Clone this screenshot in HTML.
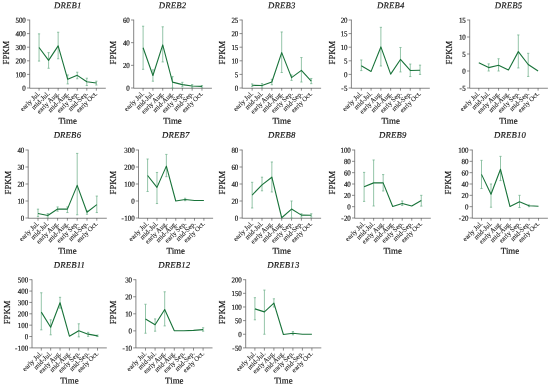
<!DOCTYPE html>
<html><head><meta charset="utf-8"><title>DREB FPKM</title>
<style>html,body{margin:0;padding:0;background:#fff}svg{display:block}</style></head>
<body>
<svg width="550" height="387" viewBox="0 0 550 387" font-family="'Liberation Serif', serif" fill="#111" stroke="#111" stroke-width="0.18">
<g>
<text transform="translate(67.70 8.30) rotate(0.03)" font-size="8.7" font-style="italic" letter-spacing="0.2" text-anchor="middle">DREB1</text>
<path d="M29.70 19.65V88.25H105.80" fill="none" stroke="#5e5e5e" stroke-width="0.75"/>
<text transform="translate(25.75 90.75) rotate(0.03) scale(0.92 1)" font-size="7.6" letter-spacing="-0.1" text-anchor="end">0</text>
<text transform="translate(25.75 77.15) rotate(0.03) scale(0.92 1)" font-size="7.6" letter-spacing="-0.1" text-anchor="end">100</text>
<text transform="translate(25.75 63.55) rotate(0.03) scale(0.92 1)" font-size="7.6" letter-spacing="-0.1" text-anchor="end">200</text>
<text transform="translate(25.75 49.95) rotate(0.03) scale(0.92 1)" font-size="7.6" letter-spacing="-0.1" text-anchor="end">300</text>
<text transform="translate(25.75 36.35) rotate(0.03) scale(0.92 1)" font-size="7.6" letter-spacing="-0.1" text-anchor="end">400</text>
<text transform="translate(25.75 22.75) rotate(0.03) scale(0.92 1)" font-size="7.6" letter-spacing="-0.1" text-anchor="end">500</text>
<path d="M29.70 88.00h-2.7M29.70 74.40h-2.7M29.70 60.80h-2.7M29.70 47.20h-2.7M29.70 33.60h-2.7M29.70 20.00h-2.7M39.05 88.00v2.7M48.60 88.00v2.7M58.15 88.00v2.7M67.70 88.00v2.7M77.25 88.00v2.7M86.80 88.00v2.7M96.35 88.00v2.7" fill="none" stroke="#5e5e5e" stroke-width="0.7"/>
<text transform="translate(40.5 94.0) rotate(-45)" font-size="6.85" stroke-width="0.06" text-anchor="end">early Jul.</text>
<text transform="translate(50.1 94.0) rotate(-45)" font-size="6.85" stroke-width="0.06" text-anchor="end">mid-Jul.</text>
<text transform="translate(59.6 94.0) rotate(-45)" font-size="6.85" stroke-width="0.06" text-anchor="end">early Aug.</text>
<text transform="translate(69.2 94.0) rotate(-45)" font-size="6.85" stroke-width="0.06" text-anchor="end">mid-Aug.</text>
<text transform="translate(78.8 94.0) rotate(-45)" font-size="6.85" stroke-width="0.06" text-anchor="end">early Sep.</text>
<text transform="translate(88.3 94.0) rotate(-45)" font-size="6.85" stroke-width="0.06" text-anchor="end">mid-Sep.</text>
<text transform="translate(97.8 94.0) rotate(-45)" font-size="6.85" stroke-width="0.06" text-anchor="end">early Oct.</text>
<path d="M39.05 33.87V61.07M37.95 33.87h2.2M37.95 61.07h2.2M48.60 52.64V68.28M47.50 52.64h2.2M47.50 68.28h2.2M58.15 32.24V58.76M57.05 32.24h2.2M57.05 58.76h2.2M67.70 74.94V83.92M66.60 74.94h2.2M66.60 83.92h2.2M77.25 72.22V78.75M76.15 72.22h2.2M76.15 78.75h2.2M86.80 78.21V85.55M85.70 78.21h2.2M85.70 85.55h2.2M96.35 81.20V85.01M95.25 81.20h2.2M95.25 85.01h2.2" fill="none" stroke="#70b28c" stroke-width="0.75"/>
<polyline points="39.05,47.47 48.60,60.39 58.15,45.84 67.70,79.30 77.25,75.35 86.80,81.74 96.35,82.97" fill="none" stroke="#19733a" stroke-width="1.1" stroke-linejoin="round"/>
<text transform="translate(67.70 123.70) rotate(0.03)" font-size="8.9" text-anchor="middle">Time</text>
<text transform="translate(9.3 52.6) rotate(-90)" font-size="8.7" text-anchor="middle">FPKM</text>
</g>
<g>
<text transform="translate(172.53 8.30) rotate(0.03)" font-size="8.7" font-style="italic" letter-spacing="0.2" text-anchor="middle">DREB2</text>
<path d="M133.70 19.65V88.25H211.90" fill="none" stroke="#5e5e5e" stroke-width="0.75"/>
<text transform="translate(129.75 90.75) rotate(0.03) scale(0.92 1)" font-size="7.6" letter-spacing="-0.1" text-anchor="end">0</text>
<text transform="translate(129.75 68.08) rotate(0.03) scale(0.92 1)" font-size="7.6" letter-spacing="-0.1" text-anchor="end">20</text>
<text transform="translate(129.75 45.42) rotate(0.03) scale(0.92 1)" font-size="7.6" letter-spacing="-0.1" text-anchor="end">40</text>
<text transform="translate(129.75 22.75) rotate(0.03) scale(0.92 1)" font-size="7.6" letter-spacing="-0.1" text-anchor="end">60</text>
<path d="M133.70 88.00h-2.7M133.70 65.33h-2.7M133.70 42.67h-2.7M133.70 20.00h-2.7M143.10 88.00v2.7M152.91 88.00v2.7M162.72 88.00v2.7M172.53 88.00v2.7M182.34 88.00v2.7M192.15 88.00v2.7M201.96 88.00v2.7" fill="none" stroke="#5e5e5e" stroke-width="0.7"/>
<text transform="translate(144.6 94.0) rotate(-45)" font-size="6.85" stroke-width="0.06" text-anchor="end">early Jul.</text>
<text transform="translate(154.4 94.0) rotate(-45)" font-size="6.85" stroke-width="0.06" text-anchor="end">mid-Jul.</text>
<text transform="translate(164.2 94.0) rotate(-45)" font-size="6.85" stroke-width="0.06" text-anchor="end">early Aug.</text>
<text transform="translate(174.0 94.0) rotate(-45)" font-size="6.85" stroke-width="0.06" text-anchor="end">mid-Aug.</text>
<text transform="translate(183.8 94.0) rotate(-45)" font-size="6.85" stroke-width="0.06" text-anchor="end">early Sep.</text>
<text transform="translate(193.7 94.0) rotate(-45)" font-size="6.85" stroke-width="0.06" text-anchor="end">mid-Sep.</text>
<text transform="translate(203.5 94.0) rotate(-45)" font-size="6.85" stroke-width="0.06" text-anchor="end">early Oct.</text>
<path d="M143.10 26.23V69.30M142.00 26.23h2.2M142.00 69.30h2.2M152.91 69.87V81.20M151.81 69.87h2.2M151.81 81.20h2.2M162.72 26.80V61.93M161.62 26.80h2.2M161.62 61.93h2.2M172.53 76.67V88.00M171.43 76.67h2.2M171.43 88.00h2.2M182.34 82.33V86.87M181.24 82.33h2.2M181.24 86.87h2.2M192.15 84.60V87.55M191.05 84.60h2.2M191.05 87.55h2.2M201.96 85.62V87.32M200.86 85.62h2.2M200.86 87.32h2.2" fill="none" stroke="#70b28c" stroke-width="0.75"/>
<polyline points="143.10,47.77 152.91,75.53 162.72,44.93 172.53,82.11 182.34,84.60 192.15,85.96 201.96,86.41" fill="none" stroke="#19733a" stroke-width="1.1" stroke-linejoin="round"/>
<text transform="translate(172.53 123.70) rotate(0.03)" font-size="8.9" text-anchor="middle">Time</text>
<text transform="translate(115.9 52.6) rotate(-90)" font-size="8.7" text-anchor="middle">FPKM</text>
</g>
<g>
<text transform="translate(281.70 8.30) rotate(0.03)" font-size="8.7" font-style="italic" letter-spacing="0.2" text-anchor="middle">DREB3</text>
<path d="M242.20 19.65V88.25H321.10" fill="none" stroke="#5e5e5e" stroke-width="0.75"/>
<text transform="translate(238.25 90.75) rotate(0.03) scale(0.92 1)" font-size="7.6" letter-spacing="-0.1" text-anchor="end">0</text>
<text transform="translate(238.25 77.15) rotate(0.03) scale(0.92 1)" font-size="7.6" letter-spacing="-0.1" text-anchor="end">5</text>
<text transform="translate(238.25 63.55) rotate(0.03) scale(0.92 1)" font-size="7.6" letter-spacing="-0.1" text-anchor="end">10</text>
<text transform="translate(238.25 49.95) rotate(0.03) scale(0.92 1)" font-size="7.6" letter-spacing="-0.1" text-anchor="end">15</text>
<text transform="translate(238.25 36.35) rotate(0.03) scale(0.92 1)" font-size="7.6" letter-spacing="-0.1" text-anchor="end">20</text>
<text transform="translate(238.25 22.75) rotate(0.03) scale(0.92 1)" font-size="7.6" letter-spacing="-0.1" text-anchor="end">25</text>
<path d="M242.20 88.00h-2.7M242.20 74.40h-2.7M242.20 60.80h-2.7M242.20 47.20h-2.7M242.20 33.60h-2.7M242.20 20.00h-2.7M252.15 88.00v2.7M262.00 88.00v2.7M271.85 88.00v2.7M281.70 88.00v2.7M291.55 88.00v2.7M301.40 88.00v2.7M311.25 88.00v2.7" fill="none" stroke="#5e5e5e" stroke-width="0.7"/>
<text transform="translate(253.7 94.0) rotate(-45)" font-size="6.85" stroke-width="0.06" text-anchor="end">early Jul.</text>
<text transform="translate(263.5 94.0) rotate(-45)" font-size="6.85" stroke-width="0.06" text-anchor="end">mid-Jul.</text>
<text transform="translate(273.4 94.0) rotate(-45)" font-size="6.85" stroke-width="0.06" text-anchor="end">early Aug.</text>
<text transform="translate(283.2 94.0) rotate(-45)" font-size="6.85" stroke-width="0.06" text-anchor="end">mid-Aug.</text>
<text transform="translate(293.1 94.0) rotate(-45)" font-size="6.85" stroke-width="0.06" text-anchor="end">early Sep.</text>
<text transform="translate(302.9 94.0) rotate(-45)" font-size="6.85" stroke-width="0.06" text-anchor="end">mid-Sep.</text>
<text transform="translate(312.8 94.0) rotate(-45)" font-size="6.85" stroke-width="0.06" text-anchor="end">early Oct.</text>
<path d="M252.15 83.92V86.64M251.05 83.92h2.2M251.05 86.64h2.2M262.00 83.65V87.18M260.90 83.65h2.2M260.90 87.18h2.2M271.85 79.30V84.74M270.75 79.30h2.2M270.75 84.74h2.2M281.70 31.97V72.50M280.60 31.97h2.2M280.60 72.50h2.2M291.55 74.94V80.38M290.45 74.94h2.2M290.45 80.38h2.2M301.40 57.54V82.02M300.30 57.54h2.2M300.30 82.02h2.2M311.25 78.48V83.65M310.15 78.48h2.2M310.15 83.65h2.2" fill="none" stroke="#70b28c" stroke-width="0.75"/>
<polyline points="252.15,85.28 262.00,85.55 271.85,82.02 281.70,52.64 291.55,77.66 301.40,70.32 311.25,81.20" fill="none" stroke="#19733a" stroke-width="1.1" stroke-linejoin="round"/>
<text transform="translate(281.70 123.70) rotate(0.03)" font-size="8.9" text-anchor="middle">Time</text>
<text transform="translate(225.1 52.6) rotate(-90)" font-size="8.7" text-anchor="middle">FPKM</text>
</g>
<g>
<text transform="translate(390.67 8.30) rotate(0.03)" font-size="8.7" font-style="italic" letter-spacing="0.2" text-anchor="middle">DREB4</text>
<path d="M351.40 19.65V88.25H429.80" fill="none" stroke="#5e5e5e" stroke-width="0.75"/>
<text transform="translate(347.45 90.75) rotate(0.03) scale(0.92 1)" font-size="7.6" letter-spacing="-0.1" text-anchor="end">-<tspan dx="0.55">5</tspan></text>
<text transform="translate(347.45 77.15) rotate(0.03) scale(0.92 1)" font-size="7.6" letter-spacing="-0.1" text-anchor="end">0</text>
<text transform="translate(347.45 63.55) rotate(0.03) scale(0.92 1)" font-size="7.6" letter-spacing="-0.1" text-anchor="end">5</text>
<text transform="translate(347.45 49.95) rotate(0.03) scale(0.92 1)" font-size="7.6" letter-spacing="-0.1" text-anchor="end">10</text>
<text transform="translate(347.45 36.35) rotate(0.03) scale(0.92 1)" font-size="7.6" letter-spacing="-0.1" text-anchor="end">15</text>
<text transform="translate(347.45 22.75) rotate(0.03) scale(0.92 1)" font-size="7.6" letter-spacing="-0.1" text-anchor="end">20</text>
<path d="M351.40 88.00h-2.7M351.40 74.40h-2.7M351.40 60.80h-2.7M351.40 47.20h-2.7M351.40 33.60h-2.7M351.40 20.00h-2.7M361.30 88.00v2.7M371.09 88.00v2.7M380.88 88.00v2.7M390.67 88.00v2.7M400.46 88.00v2.7M410.25 88.00v2.7M420.04 88.00v2.7" fill="none" stroke="#5e5e5e" stroke-width="0.7"/>
<text transform="translate(362.8 94.0) rotate(-45)" font-size="6.85" stroke-width="0.06" text-anchor="end">early Jul.</text>
<text transform="translate(372.6 94.0) rotate(-45)" font-size="6.85" stroke-width="0.06" text-anchor="end">mid-Jul.</text>
<text transform="translate(382.4 94.0) rotate(-45)" font-size="6.85" stroke-width="0.06" text-anchor="end">early Aug.</text>
<text transform="translate(392.2 94.0) rotate(-45)" font-size="6.85" stroke-width="0.06" text-anchor="end">mid-Aug.</text>
<text transform="translate(402.0 94.0) rotate(-45)" font-size="6.85" stroke-width="0.06" text-anchor="end">early Sep.</text>
<text transform="translate(411.8 94.0) rotate(-45)" font-size="6.85" stroke-width="0.06" text-anchor="end">mid-Sep.</text>
<text transform="translate(421.5 94.0) rotate(-45)" font-size="6.85" stroke-width="0.06" text-anchor="end">early Oct.</text>
<path d="M361.30 59.98V70.59M360.20 59.98h2.2M360.20 70.59h2.2M380.88 27.34V65.97M379.78 27.34h2.2M379.78 65.97h2.2M400.46 47.47V71.95M399.36 47.47h2.2M399.36 71.95h2.2M410.25 64.06V76.58M409.15 64.06h2.2M409.15 76.58h2.2M420.04 65.15V74.40M418.94 65.15h2.2M418.94 74.40h2.2" fill="none" stroke="#70b28c" stroke-width="0.75"/>
<polyline points="361.30,65.70 371.09,71.41 380.88,46.93 390.67,74.13 400.46,59.44 410.25,70.46 420.04,70.32" fill="none" stroke="#19733a" stroke-width="1.1" stroke-linejoin="round"/>
<text transform="translate(390.67 123.70) rotate(0.03)" font-size="8.9" text-anchor="middle">Time</text>
<text transform="translate(334.6 52.6) rotate(-90)" font-size="8.7" text-anchor="middle">FPKM</text>
</g>
<g>
<text transform="translate(508.44 8.30) rotate(0.03)" font-size="8.7" font-style="italic" letter-spacing="0.2" text-anchor="middle">DREB5</text>
<path d="M469.70 19.65V88.25H547.90" fill="none" stroke="#5e5e5e" stroke-width="0.75"/>
<text transform="translate(465.75 90.75) rotate(0.03) scale(0.92 1)" font-size="7.6" letter-spacing="-0.1" text-anchor="end">-<tspan dx="0.55">5</tspan></text>
<text transform="translate(465.75 73.75) rotate(0.03) scale(0.92 1)" font-size="7.6" letter-spacing="-0.1" text-anchor="end">0</text>
<text transform="translate(465.75 56.75) rotate(0.03) scale(0.92 1)" font-size="7.6" letter-spacing="-0.1" text-anchor="end">5</text>
<text transform="translate(465.75 39.75) rotate(0.03) scale(0.92 1)" font-size="7.6" letter-spacing="-0.1" text-anchor="end">10</text>
<text transform="translate(465.75 22.75) rotate(0.03) scale(0.92 1)" font-size="7.6" letter-spacing="-0.1" text-anchor="end">15</text>
<path d="M469.70 88.00h-2.7M469.70 71.00h-2.7M469.70 54.00h-2.7M469.70 37.00h-2.7M469.70 20.00h-2.7M478.80 88.00v2.7M488.68 88.00v2.7M498.56 88.00v2.7M508.44 88.00v2.7M518.32 88.00v2.7M528.20 88.00v2.7M538.08 88.00v2.7" fill="none" stroke="#5e5e5e" stroke-width="0.7"/>
<text transform="translate(480.3 94.0) rotate(-45)" font-size="6.85" stroke-width="0.06" text-anchor="end">early Jul.</text>
<text transform="translate(490.2 94.0) rotate(-45)" font-size="6.85" stroke-width="0.06" text-anchor="end">mid-Jul.</text>
<text transform="translate(500.1 94.0) rotate(-45)" font-size="6.85" stroke-width="0.06" text-anchor="end">early Aug.</text>
<text transform="translate(509.9 94.0) rotate(-45)" font-size="6.85" stroke-width="0.06" text-anchor="end">mid-Aug.</text>
<text transform="translate(519.8 94.0) rotate(-45)" font-size="6.85" stroke-width="0.06" text-anchor="end">early Sep.</text>
<text transform="translate(529.7 94.0) rotate(-45)" font-size="6.85" stroke-width="0.06" text-anchor="end">mid-Sep.</text>
<text transform="translate(539.6 94.0) rotate(-45)" font-size="6.85" stroke-width="0.06" text-anchor="end">early Oct.</text>
<path d="M488.68 63.86V71.00M487.58 63.86h2.2M487.58 71.00h2.2M498.56 58.76V71.00M497.46 58.76h2.2M497.46 71.00h2.2M518.32 34.96V67.94M517.22 34.96h2.2M517.22 67.94h2.2M528.20 53.32V76.44M527.10 53.32h2.2M527.10 76.44h2.2" fill="none" stroke="#70b28c" stroke-width="0.75"/>
<polyline points="478.80,62.84 488.68,67.60 498.56,65.22 508.44,69.98 518.32,51.62 528.20,64.54 538.08,71.00" fill="none" stroke="#19733a" stroke-width="1.1" stroke-linejoin="round"/>
<text transform="translate(508.44 123.70) rotate(0.03)" font-size="8.9" text-anchor="middle">Time</text>
<text transform="translate(451.6 52.6) rotate(-90)" font-size="8.7" text-anchor="middle">FPKM</text>
</g>
<g>
<text transform="translate(67.40 137.80) rotate(0.03)" font-size="8.7" font-style="italic" letter-spacing="0.2" text-anchor="middle">DREB6</text>
<path d="M28.20 149.65V218.25H106.80" fill="none" stroke="#5e5e5e" stroke-width="0.75"/>
<text transform="translate(24.25 220.75) rotate(0.03) scale(0.92 1)" font-size="7.6" letter-spacing="-0.1" text-anchor="end">0</text>
<text transform="translate(24.25 203.75) rotate(0.03) scale(0.92 1)" font-size="7.6" letter-spacing="-0.1" text-anchor="end">10</text>
<text transform="translate(24.25 186.75) rotate(0.03) scale(0.92 1)" font-size="7.6" letter-spacing="-0.1" text-anchor="end">20</text>
<text transform="translate(24.25 169.75) rotate(0.03) scale(0.92 1)" font-size="7.6" letter-spacing="-0.1" text-anchor="end">30</text>
<text transform="translate(24.25 152.75) rotate(0.03) scale(0.92 1)" font-size="7.6" letter-spacing="-0.1" text-anchor="end">40</text>
<path d="M28.20 218.00h-2.7M28.20 201.00h-2.7M28.20 184.00h-2.7M28.20 167.00h-2.7M28.20 150.00h-2.7M38.00 218.00v2.7M47.80 218.00v2.7M57.60 218.00v2.7M67.40 218.00v2.7M77.20 218.00v2.7M87.00 218.00v2.7M96.80 218.00v2.7" fill="none" stroke="#5e5e5e" stroke-width="0.7"/>
<text transform="translate(39.5 224.0) rotate(-45)" font-size="6.85" stroke-width="0.06" text-anchor="end">early Jul.</text>
<text transform="translate(49.3 224.0) rotate(-45)" font-size="6.85" stroke-width="0.06" text-anchor="end">mid-Jul.</text>
<text transform="translate(59.1 224.0) rotate(-45)" font-size="6.85" stroke-width="0.06" text-anchor="end">early Aug.</text>
<text transform="translate(68.9 224.0) rotate(-45)" font-size="6.85" stroke-width="0.06" text-anchor="end">mid-Aug.</text>
<text transform="translate(78.7 224.0) rotate(-45)" font-size="6.85" stroke-width="0.06" text-anchor="end">early Sep.</text>
<text transform="translate(88.5 224.0) rotate(-45)" font-size="6.85" stroke-width="0.06" text-anchor="end">mid-Sep.</text>
<text transform="translate(98.3 224.0) rotate(-45)" font-size="6.85" stroke-width="0.06" text-anchor="end">early Oct.</text>
<path d="M38.00 209.16V216.64M36.90 209.16h2.2M36.90 216.64h2.2M47.80 213.58V217.15M46.70 213.58h2.2M46.70 217.15h2.2M57.60 206.95V211.20M56.50 206.95h2.2M56.50 211.20h2.2M67.40 206.95V212.56M66.30 206.95h2.2M66.30 212.56h2.2M77.20 153.40V214.77M76.10 153.40h2.2M76.10 214.77h2.2M87.00 210.86V214.26M85.90 210.86h2.2M85.90 214.26h2.2M96.80 196.07V212.56M95.70 196.07h2.2M95.70 212.56h2.2" fill="none" stroke="#70b28c" stroke-width="0.75"/>
<polyline points="38.00,213.58 47.80,215.45 57.60,208.99 67.40,209.16 77.20,185.36 87.00,212.22 96.80,204.57" fill="none" stroke="#19733a" stroke-width="1.1" stroke-linejoin="round"/>
<text transform="translate(67.40 253.80) rotate(0.03)" font-size="8.9" text-anchor="middle">Time</text>
<text transform="translate(10.6 182.6) rotate(-90)" font-size="8.7" text-anchor="middle">FPKM</text>
</g>
<g>
<text transform="translate(175.74 137.80) rotate(0.03)" font-size="8.7" font-style="italic" letter-spacing="0.2" text-anchor="middle">DREB7</text>
<path d="M138.50 149.65V218.25H213.10" fill="none" stroke="#5e5e5e" stroke-width="0.75"/>
<text transform="translate(134.55 220.75) rotate(0.03) scale(0.92 1)" font-size="7.6" letter-spacing="-0.1" text-anchor="end">-<tspan dx="0.55">100</tspan></text>
<text transform="translate(134.55 203.75) rotate(0.03) scale(0.92 1)" font-size="7.6" letter-spacing="-0.1" text-anchor="end">0</text>
<text transform="translate(134.55 186.75) rotate(0.03) scale(0.92 1)" font-size="7.6" letter-spacing="-0.1" text-anchor="end">100</text>
<text transform="translate(134.55 169.75) rotate(0.03) scale(0.92 1)" font-size="7.6" letter-spacing="-0.1" text-anchor="end">200</text>
<text transform="translate(134.55 152.75) rotate(0.03) scale(0.92 1)" font-size="7.6" letter-spacing="-0.1" text-anchor="end">300</text>
<path d="M138.50 218.00h-2.7M138.50 201.00h-2.7M138.50 184.00h-2.7M138.50 167.00h-2.7M138.50 150.00h-2.7M147.60 218.00v2.7M156.98 218.00v2.7M166.36 218.00v2.7M175.74 218.00v2.7M185.12 218.00v2.7M194.50 218.00v2.7M203.88 218.00v2.7" fill="none" stroke="#5e5e5e" stroke-width="0.7"/>
<text transform="translate(149.1 224.0) rotate(-45)" font-size="6.85" stroke-width="0.06" text-anchor="end">early Jul.</text>
<text transform="translate(158.5 224.0) rotate(-45)" font-size="6.85" stroke-width="0.06" text-anchor="end">mid-Jul.</text>
<text transform="translate(167.9 224.0) rotate(-45)" font-size="6.85" stroke-width="0.06" text-anchor="end">early Aug.</text>
<text transform="translate(177.2 224.0) rotate(-45)" font-size="6.85" stroke-width="0.06" text-anchor="end">mid-Aug.</text>
<text transform="translate(186.6 224.0) rotate(-45)" font-size="6.85" stroke-width="0.06" text-anchor="end">early Sep.</text>
<text transform="translate(196.0 224.0) rotate(-45)" font-size="6.85" stroke-width="0.06" text-anchor="end">mid-Sep.</text>
<text transform="translate(205.4 224.0) rotate(-45)" font-size="6.85" stroke-width="0.06" text-anchor="end">early Oct.</text>
<path d="M147.60 159.01V191.48M146.50 159.01h2.2M146.50 191.48h2.2M156.98 172.44V203.55M155.88 172.44h2.2M155.88 203.55h2.2M166.36 154.42V176.69M165.26 154.42h2.2M165.26 176.69h2.2M185.12 198.28V200.66M184.02 198.28h2.2M184.02 200.66h2.2" fill="none" stroke="#70b28c" stroke-width="0.75"/>
<polyline points="147.60,175.50 156.98,187.40 166.36,166.15 175.74,201.00 185.12,199.47 194.50,200.49 203.88,200.49" fill="none" stroke="#19733a" stroke-width="1.1" stroke-linejoin="round"/>
<text transform="translate(175.74 253.80) rotate(0.03)" font-size="8.9" text-anchor="middle">Time</text>
<text transform="translate(115.9 182.6) rotate(-90)" font-size="8.7" text-anchor="middle">FPKM</text>
</g>
<g>
<text transform="translate(281.70 137.80) rotate(0.03)" font-size="8.7" font-style="italic" letter-spacing="0.2" text-anchor="middle">DREB8</text>
<path d="M242.20 149.65V218.25H321.10" fill="none" stroke="#5e5e5e" stroke-width="0.75"/>
<text transform="translate(238.25 220.75) rotate(0.03) scale(0.92 1)" font-size="7.6" letter-spacing="-0.1" text-anchor="end">0</text>
<text transform="translate(238.25 203.75) rotate(0.03) scale(0.92 1)" font-size="7.6" letter-spacing="-0.1" text-anchor="end">20</text>
<text transform="translate(238.25 186.75) rotate(0.03) scale(0.92 1)" font-size="7.6" letter-spacing="-0.1" text-anchor="end">40</text>
<text transform="translate(238.25 169.75) rotate(0.03) scale(0.92 1)" font-size="7.6" letter-spacing="-0.1" text-anchor="end">60</text>
<text transform="translate(238.25 152.75) rotate(0.03) scale(0.92 1)" font-size="7.6" letter-spacing="-0.1" text-anchor="end">80</text>
<path d="M242.20 218.00h-2.7M242.20 201.00h-2.7M242.20 184.00h-2.7M242.20 167.00h-2.7M242.20 150.00h-2.7M252.15 218.00v2.7M262.00 218.00v2.7M271.85 218.00v2.7M281.70 218.00v2.7M291.55 218.00v2.7M301.40 218.00v2.7M311.25 218.00v2.7" fill="none" stroke="#5e5e5e" stroke-width="0.7"/>
<text transform="translate(253.7 224.0) rotate(-45)" font-size="6.85" stroke-width="0.06" text-anchor="end">early Jul.</text>
<text transform="translate(263.5 224.0) rotate(-45)" font-size="6.85" stroke-width="0.06" text-anchor="end">mid-Jul.</text>
<text transform="translate(273.4 224.0) rotate(-45)" font-size="6.85" stroke-width="0.06" text-anchor="end">early Aug.</text>
<text transform="translate(283.2 224.0) rotate(-45)" font-size="6.85" stroke-width="0.06" text-anchor="end">mid-Aug.</text>
<text transform="translate(293.1 224.0) rotate(-45)" font-size="6.85" stroke-width="0.06" text-anchor="end">early Sep.</text>
<text transform="translate(302.9 224.0) rotate(-45)" font-size="6.85" stroke-width="0.06" text-anchor="end">mid-Sep.</text>
<text transform="translate(312.8 224.0) rotate(-45)" font-size="6.85" stroke-width="0.06" text-anchor="end">early Oct.</text>
<path d="M252.15 182.30V207.97M251.05 182.30h2.2M251.05 207.97h2.2M262.00 177.20V190.80M260.90 177.20h2.2M260.90 190.80h2.2M271.85 161.99V191.99M270.75 161.99h2.2M270.75 191.99h2.2M291.55 201.00V218.00M290.45 201.00h2.2M290.45 218.00h2.2M301.40 213.75V217.15M300.30 213.75h2.2M300.30 217.15h2.2M311.25 213.75V217.15M310.15 213.75h2.2M310.15 217.15h2.2" fill="none" stroke="#70b28c" stroke-width="0.75"/>
<polyline points="252.15,195.05 262.00,184.85 271.85,177.20 281.70,217.75 291.55,209.07 301.40,215.11 311.25,215.28" fill="none" stroke="#19733a" stroke-width="1.1" stroke-linejoin="round"/>
<text transform="translate(281.70 253.80) rotate(0.03)" font-size="8.9" text-anchor="middle">Time</text>
<text transform="translate(224.9 182.6) rotate(-90)" font-size="8.7" text-anchor="middle">FPKM</text>
</g>
<g>
<text transform="translate(392.69 137.80) rotate(0.03)" font-size="8.7" font-style="italic" letter-spacing="0.2" text-anchor="middle">DREB9</text>
<path d="M354.70 149.65V218.25H430.80" fill="none" stroke="#5e5e5e" stroke-width="0.75"/>
<text transform="translate(350.75 220.75) rotate(0.03) scale(0.92 1)" font-size="7.6" letter-spacing="-0.1" text-anchor="end">-<tspan dx="0.55">20</tspan></text>
<text transform="translate(350.75 209.42) rotate(0.03) scale(0.92 1)" font-size="7.6" letter-spacing="-0.1" text-anchor="end">0</text>
<text transform="translate(350.75 198.08) rotate(0.03) scale(0.92 1)" font-size="7.6" letter-spacing="-0.1" text-anchor="end">20</text>
<text transform="translate(350.75 186.75) rotate(0.03) scale(0.92 1)" font-size="7.6" letter-spacing="-0.1" text-anchor="end">40</text>
<text transform="translate(350.75 175.42) rotate(0.03) scale(0.92 1)" font-size="7.6" letter-spacing="-0.1" text-anchor="end">60</text>
<text transform="translate(350.75 164.08) rotate(0.03) scale(0.92 1)" font-size="7.6" letter-spacing="-0.1" text-anchor="end">80</text>
<text transform="translate(350.75 152.75) rotate(0.03) scale(0.92 1)" font-size="7.6" letter-spacing="-0.1" text-anchor="end">100</text>
<path d="M354.70 218.00h-2.7M354.70 206.67h-2.7M354.70 195.33h-2.7M354.70 184.00h-2.7M354.70 172.67h-2.7M354.70 161.33h-2.7M354.70 150.00h-2.7M364.10 218.00v2.7M373.63 218.00v2.7M383.16 218.00v2.7M392.69 218.00v2.7M402.22 218.00v2.7M411.75 218.00v2.7M421.28 218.00v2.7" fill="none" stroke="#5e5e5e" stroke-width="0.7"/>
<text transform="translate(365.6 224.0) rotate(-45)" font-size="6.85" stroke-width="0.06" text-anchor="end">early Jul.</text>
<text transform="translate(375.1 224.0) rotate(-45)" font-size="6.85" stroke-width="0.06" text-anchor="end">mid-Jul.</text>
<text transform="translate(384.7 224.0) rotate(-45)" font-size="6.85" stroke-width="0.06" text-anchor="end">early Aug.</text>
<text transform="translate(394.2 224.0) rotate(-45)" font-size="6.85" stroke-width="0.06" text-anchor="end">mid-Aug.</text>
<text transform="translate(403.7 224.0) rotate(-45)" font-size="6.85" stroke-width="0.06" text-anchor="end">early Sep.</text>
<text transform="translate(413.2 224.0) rotate(-45)" font-size="6.85" stroke-width="0.06" text-anchor="end">mid-Sep.</text>
<text transform="translate(422.8 224.0) rotate(-45)" font-size="6.85" stroke-width="0.06" text-anchor="end">early Oct.</text>
<path d="M364.10 172.38V201.40M363.00 172.38h2.2M363.00 201.40h2.2M373.63 159.97V205.99M372.53 159.97h2.2M372.53 205.99h2.2M383.16 174.59V190.97M382.06 174.59h2.2M382.06 190.97h2.2M402.22 201.00V205.53M401.12 201.00h2.2M401.12 205.53h2.2M421.28 195.33V206.10M420.18 195.33h2.2M420.18 206.10h2.2" fill="none" stroke="#70b28c" stroke-width="0.75"/>
<polyline points="364.10,186.83 373.63,182.87 383.16,182.87 392.69,206.55 402.22,203.55 411.75,206.04 421.28,200.49" fill="none" stroke="#19733a" stroke-width="1.1" stroke-linejoin="round"/>
<text transform="translate(392.69 253.80) rotate(0.03)" font-size="8.9" text-anchor="middle">Time</text>
<text transform="translate(334.6 182.6) rotate(-90)" font-size="8.7" text-anchor="middle">FPKM</text>
</g>
<g>
<text transform="translate(510.00 137.80) rotate(0.03)" font-size="8.7" font-style="italic" letter-spacing="0.2" text-anchor="middle">DREB10</text>
<path d="M472.30 149.65V218.25H547.90" fill="none" stroke="#5e5e5e" stroke-width="0.75"/>
<text transform="translate(468.35 220.75) rotate(0.03) scale(0.92 1)" font-size="7.6" letter-spacing="-0.1" text-anchor="end">-<tspan dx="0.55">20</tspan></text>
<text transform="translate(468.35 209.42) rotate(0.03) scale(0.92 1)" font-size="7.6" letter-spacing="-0.1" text-anchor="end">0</text>
<text transform="translate(468.35 198.08) rotate(0.03) scale(0.92 1)" font-size="7.6" letter-spacing="-0.1" text-anchor="end">20</text>
<text transform="translate(468.35 186.75) rotate(0.03) scale(0.92 1)" font-size="7.6" letter-spacing="-0.1" text-anchor="end">40</text>
<text transform="translate(468.35 175.42) rotate(0.03) scale(0.92 1)" font-size="7.6" letter-spacing="-0.1" text-anchor="end">60</text>
<text transform="translate(468.35 164.08) rotate(0.03) scale(0.92 1)" font-size="7.6" letter-spacing="-0.1" text-anchor="end">80</text>
<text transform="translate(468.35 152.75) rotate(0.03) scale(0.92 1)" font-size="7.6" letter-spacing="-0.1" text-anchor="end">100</text>
<path d="M472.30 218.00h-2.7M472.30 206.67h-2.7M472.30 195.33h-2.7M472.30 184.00h-2.7M472.30 172.67h-2.7M472.30 161.33h-2.7M472.30 150.00h-2.7M481.50 218.00v2.7M491.00 218.00v2.7M500.50 218.00v2.7M510.00 218.00v2.7M519.50 218.00v2.7M529.00 218.00v2.7M538.50 218.00v2.7" fill="none" stroke="#5e5e5e" stroke-width="0.7"/>
<text transform="translate(483.0 224.0) rotate(-45)" font-size="6.85" stroke-width="0.06" text-anchor="end">early Jul.</text>
<text transform="translate(492.5 224.0) rotate(-45)" font-size="6.85" stroke-width="0.06" text-anchor="end">mid-Jul.</text>
<text transform="translate(502.0 224.0) rotate(-45)" font-size="6.85" stroke-width="0.06" text-anchor="end">early Aug.</text>
<text transform="translate(511.5 224.0) rotate(-45)" font-size="6.85" stroke-width="0.06" text-anchor="end">mid-Aug.</text>
<text transform="translate(521.0 224.0) rotate(-45)" font-size="6.85" stroke-width="0.06" text-anchor="end">early Sep.</text>
<text transform="translate(530.5 224.0) rotate(-45)" font-size="6.85" stroke-width="0.06" text-anchor="end">mid-Sep.</text>
<text transform="translate(540.0 224.0) rotate(-45)" font-size="6.85" stroke-width="0.06" text-anchor="end">early Oct.</text>
<path d="M481.50 160.37V188.53M480.40 160.37h2.2M480.40 188.53h2.2M491.00 184.00V207.23M489.90 184.00h2.2M489.90 207.23h2.2M500.50 156.35V180.60M499.40 156.35h2.2M499.40 180.60h2.2M519.50 195.33V207.52M518.40 195.33h2.2M518.40 207.52h2.2M529.00 204.97V206.67M527.90 204.97h2.2M527.90 206.67h2.2" fill="none" stroke="#70b28c" stroke-width="0.75"/>
<polyline points="481.50,174.37 491.00,194.20 500.50,169.27 510.00,206.55 519.50,201.85 529.00,205.82 538.50,206.21" fill="none" stroke="#19733a" stroke-width="1.1" stroke-linejoin="round"/>
<text transform="translate(510.00 253.80) rotate(0.03)" font-size="8.9" text-anchor="middle">Time</text>
<text transform="translate(451.3 182.6) rotate(-90)" font-size="8.7" text-anchor="middle">FPKM</text>
</g>
<g>
<text transform="translate(69.41 267.80) rotate(0.03)" font-size="8.7" font-style="italic" letter-spacing="0.2" text-anchor="middle">DREB11</text>
<path d="M32.00 279.35V347.90H106.80" fill="none" stroke="#5e5e5e" stroke-width="0.75"/>
<text transform="translate(28.05 350.65) rotate(0.03) scale(0.92 1)" font-size="7.6" letter-spacing="-0.1" text-anchor="end">-<tspan dx="0.55">100</tspan></text>
<text transform="translate(28.05 339.28) rotate(0.03) scale(0.92 1)" font-size="7.6" letter-spacing="-0.1" text-anchor="end">0</text>
<text transform="translate(28.05 327.92) rotate(0.03) scale(0.92 1)" font-size="7.6" letter-spacing="-0.1" text-anchor="end">100</text>
<text transform="translate(28.05 316.55) rotate(0.03) scale(0.92 1)" font-size="7.6" letter-spacing="-0.1" text-anchor="end">200</text>
<text transform="translate(28.05 305.18) rotate(0.03) scale(0.92 1)" font-size="7.6" letter-spacing="-0.1" text-anchor="end">300</text>
<text transform="translate(28.05 293.82) rotate(0.03) scale(0.92 1)" font-size="7.6" letter-spacing="-0.1" text-anchor="end">400</text>
<text transform="translate(28.05 282.45) rotate(0.03) scale(0.92 1)" font-size="7.6" letter-spacing="-0.1" text-anchor="end">500</text>
<path d="M32.00 347.90h-2.7M32.00 336.53h-2.7M32.00 325.17h-2.7M32.00 313.80h-2.7M32.00 302.43h-2.7M32.00 291.07h-2.7M32.00 279.70h-2.7M41.30 347.90v2.7M50.67 347.90v2.7M60.04 347.90v2.7M69.41 347.90v2.7M78.78 347.90v2.7M88.15 347.90v2.7M97.52 347.90v2.7" fill="none" stroke="#5e5e5e" stroke-width="0.7"/>
<text transform="translate(42.8 353.9) rotate(-45)" font-size="6.85" stroke-width="0.06" text-anchor="end">early Jul.</text>
<text transform="translate(52.2 353.9) rotate(-45)" font-size="6.85" stroke-width="0.06" text-anchor="end">mid-Jul.</text>
<text transform="translate(61.5 353.9) rotate(-45)" font-size="6.85" stroke-width="0.06" text-anchor="end">early Aug.</text>
<text transform="translate(70.9 353.9) rotate(-45)" font-size="6.85" stroke-width="0.06" text-anchor="end">mid-Aug.</text>
<text transform="translate(80.3 353.9) rotate(-45)" font-size="6.85" stroke-width="0.06" text-anchor="end">early Sep.</text>
<text transform="translate(89.6 353.9) rotate(-45)" font-size="6.85" stroke-width="0.06" text-anchor="end">mid-Sep.</text>
<text transform="translate(99.0 353.9) rotate(-45)" font-size="6.85" stroke-width="0.06" text-anchor="end">early Oct.</text>
<path d="M41.30 292.77V329.83M40.20 292.77h2.2M40.20 329.83h2.2M50.67 319.82V334.83M49.57 319.82h2.2M49.57 334.83h2.2M60.04 297.32V308.12M58.94 297.32h2.2M58.94 308.12h2.2M78.78 323.80V336.87M77.68 323.80h2.2M77.68 336.87h2.2M88.15 332.33V336.31M87.05 332.33h2.2M87.05 336.31h2.2M97.52 335.06V336.53M96.42 335.06h2.2M96.42 336.53h2.2" fill="none" stroke="#70b28c" stroke-width="0.75"/>
<polyline points="41.30,312.09 50.67,327.21 60.04,302.77 69.41,336.19 78.78,330.85 88.15,334.15 97.52,335.85" fill="none" stroke="#19733a" stroke-width="1.1" stroke-linejoin="round"/>
<text transform="translate(69.41 383.40) rotate(0.03)" font-size="8.9" text-anchor="middle">Time</text>
<text transform="translate(9.9 312.4) rotate(-90)" font-size="8.7" text-anchor="middle">FPKM</text>
</g>
<g>
<text transform="translate(174.30 267.80) rotate(0.03)" font-size="8.7" font-style="italic" letter-spacing="0.2" text-anchor="middle">DREB12</text>
<path d="M135.90 279.35V347.90H212.50" fill="none" stroke="#5e5e5e" stroke-width="0.75"/>
<text transform="translate(131.95 350.65) rotate(0.03) scale(0.92 1)" font-size="7.6" letter-spacing="-0.1" text-anchor="end">-<tspan dx="0.55">10</tspan></text>
<text transform="translate(131.95 333.60) rotate(0.03) scale(0.92 1)" font-size="7.6" letter-spacing="-0.1" text-anchor="end">0</text>
<text transform="translate(131.95 316.55) rotate(0.03) scale(0.92 1)" font-size="7.6" letter-spacing="-0.1" text-anchor="end">10</text>
<text transform="translate(131.95 299.50) rotate(0.03) scale(0.92 1)" font-size="7.6" letter-spacing="-0.1" text-anchor="end">20</text>
<text transform="translate(131.95 282.45) rotate(0.03) scale(0.92 1)" font-size="7.6" letter-spacing="-0.1" text-anchor="end">30</text>
<path d="M135.90 347.90h-2.7M135.90 330.85h-2.7M135.90 313.80h-2.7M135.90 296.75h-2.7M135.90 279.70h-2.7M145.50 347.90v2.7M155.10 347.90v2.7M164.70 347.90v2.7M174.30 347.90v2.7M183.90 347.90v2.7M193.50 347.90v2.7M203.10 347.90v2.7" fill="none" stroke="#5e5e5e" stroke-width="0.7"/>
<text transform="translate(147.0 353.9) rotate(-45)" font-size="6.85" stroke-width="0.06" text-anchor="end">early Jul.</text>
<text transform="translate(156.6 353.9) rotate(-45)" font-size="6.85" stroke-width="0.06" text-anchor="end">mid-Jul.</text>
<text transform="translate(166.2 353.9) rotate(-45)" font-size="6.85" stroke-width="0.06" text-anchor="end">early Aug.</text>
<text transform="translate(175.8 353.9) rotate(-45)" font-size="6.85" stroke-width="0.06" text-anchor="end">mid-Aug.</text>
<text transform="translate(185.4 353.9) rotate(-45)" font-size="6.85" stroke-width="0.06" text-anchor="end">early Sep.</text>
<text transform="translate(195.0 353.9) rotate(-45)" font-size="6.85" stroke-width="0.06" text-anchor="end">mid-Sep.</text>
<text transform="translate(204.6 353.9) rotate(-45)" font-size="6.85" stroke-width="0.06" text-anchor="end">early Oct.</text>
<path d="M145.50 304.25V333.24M144.40 304.25h2.2M144.40 333.24h2.2M155.10 318.91V331.19M154.00 318.91h2.2M154.00 331.19h2.2M164.70 291.81V325.91M163.60 291.81h2.2M163.60 325.91h2.2M203.10 327.78V331.19M202.00 327.78h2.2M202.00 331.19h2.2" fill="none" stroke="#70b28c" stroke-width="0.75"/>
<polyline points="145.50,318.91 155.10,324.71 164.70,309.54 174.30,330.68 183.90,330.68 193.50,330.34 203.10,329.66" fill="none" stroke="#19733a" stroke-width="1.1" stroke-linejoin="round"/>
<text transform="translate(174.30 383.40) rotate(0.03)" font-size="8.9" text-anchor="middle">Time</text>
<text transform="translate(116.0 312.4) rotate(-90)" font-size="8.7" text-anchor="middle">FPKM</text>
</g>
<g>
<text transform="translate(283.40 267.80) rotate(0.03)" font-size="8.7" font-style="italic" letter-spacing="0.2" text-anchor="middle">DREB13</text>
<path d="M245.70 279.35V347.90H321.30" fill="none" stroke="#5e5e5e" stroke-width="0.75"/>
<text transform="translate(241.75 350.65) rotate(0.03) scale(0.92 1)" font-size="7.6" letter-spacing="-0.1" text-anchor="end">-<tspan dx="0.55">50</tspan></text>
<text transform="translate(241.75 337.01) rotate(0.03) scale(0.92 1)" font-size="7.6" letter-spacing="-0.1" text-anchor="end">0</text>
<text transform="translate(241.75 323.37) rotate(0.03) scale(0.92 1)" font-size="7.6" letter-spacing="-0.1" text-anchor="end">50</text>
<text transform="translate(241.75 309.73) rotate(0.03) scale(0.92 1)" font-size="7.6" letter-spacing="-0.1" text-anchor="end">100</text>
<text transform="translate(241.75 296.09) rotate(0.03) scale(0.92 1)" font-size="7.6" letter-spacing="-0.1" text-anchor="end">150</text>
<text transform="translate(241.75 282.45) rotate(0.03) scale(0.92 1)" font-size="7.6" letter-spacing="-0.1" text-anchor="end">200</text>
<path d="M245.70 347.90h-2.7M245.70 334.26h-2.7M245.70 320.62h-2.7M245.70 306.98h-2.7M245.70 293.34h-2.7M245.70 279.70h-2.7M254.90 347.90v2.7M264.40 347.90v2.7M273.90 347.90v2.7M283.40 347.90v2.7M292.90 347.90v2.7M302.40 347.90v2.7M311.90 347.90v2.7" fill="none" stroke="#5e5e5e" stroke-width="0.7"/>
<text transform="translate(256.4 353.9) rotate(-45)" font-size="6.85" stroke-width="0.06" text-anchor="end">early Jul.</text>
<text transform="translate(265.9 353.9) rotate(-45)" font-size="6.85" stroke-width="0.06" text-anchor="end">mid-Jul.</text>
<text transform="translate(275.4 353.9) rotate(-45)" font-size="6.85" stroke-width="0.06" text-anchor="end">early Aug.</text>
<text transform="translate(284.9 353.9) rotate(-45)" font-size="6.85" stroke-width="0.06" text-anchor="end">mid-Aug.</text>
<text transform="translate(294.4 353.9) rotate(-45)" font-size="6.85" stroke-width="0.06" text-anchor="end">early Sep.</text>
<text transform="translate(303.9 353.9) rotate(-45)" font-size="6.85" stroke-width="0.06" text-anchor="end">mid-Sep.</text>
<text transform="translate(313.4 353.9) rotate(-45)" font-size="6.85" stroke-width="0.06" text-anchor="end">early Oct.</text>
<path d="M254.90 297.70V319.80M253.80 297.70h2.2M253.80 319.80h2.2M264.40 290.07V334.26M263.30 290.07h2.2M263.30 334.26h2.2M273.90 298.80V306.98M272.80 298.80h2.2M272.80 306.98h2.2M292.90 331.53V334.81M291.80 331.53h2.2M291.80 334.81h2.2" fill="none" stroke="#70b28c" stroke-width="0.75"/>
<polyline points="254.90,308.89 264.40,311.89 273.90,303.16 283.40,334.53 292.90,333.31 302.40,334.26 311.90,334.26" fill="none" stroke="#19733a" stroke-width="1.1" stroke-linejoin="round"/>
<text transform="translate(283.40 383.40) rotate(0.03)" font-size="8.9" text-anchor="middle">Time</text>
<text transform="translate(224.9 312.4) rotate(-90)" font-size="8.7" text-anchor="middle">FPKM</text>
</g>
</svg>
</body></html>
